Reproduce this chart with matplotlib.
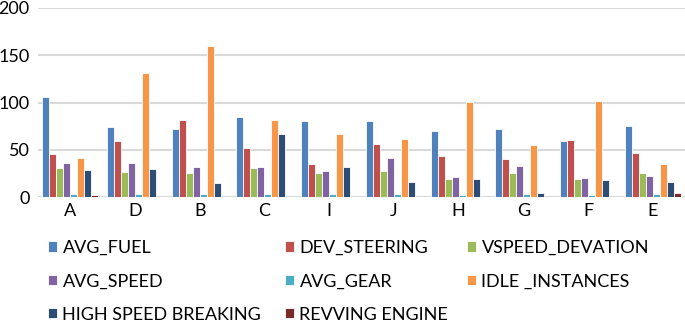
import numpy as np
import matplotlib
matplotlib.use("Agg")
import matplotlib.pyplot as plt

plt.rcParams["font.family"] = ["Lato", "DejaVu Sans"]

categories = ["A", "D", "B", "C", "I", "J", "H", "G", "F", "E"]
series = ["AVG_FUEL", "DEV_STEERING", "VSPEED_DEVATION", "AVG_SPEED",
          "AVG_GEAR", "IDLE _INSTANCES", "HIGH SPEED BREAKING", "REVVING ENGINE"]
colors = ["#4F81BD", "#C0504D", "#9BBB59", "#8064A2",
          "#4BACC6", "#F79646", "#2C4D75", "#772C2A"]

avg_fuel = [106, 74, 72, 85, 80, 80, 70, 72, 59, 75.5]
dev_steering = [46, 59, 81, 52, 35, 56.5, 43, 40.5, 60, 47]
vspeed_devation = [31, 26, 25, 30.5, 25, 27.5, 19.5, 25.5, 19.5, 25.5]
avg_speed = [36, 36, 32, 31.5, 28, 41.5, 21, 33, 20.5, 22]
avg_gear = [3, 3, 3, 3, 3, 3, 2.5, 3, 2.5, 3]
idle_instances = [41.5, 131, 160, 81.5, 66.5, 61, 100.5, 54.5, 102, 34.5]
high_speed_breaking = [28.5, 30, 15, 66.5, 32, 16, 19.5, 4.5, 18, 15.5]
revving_engine = [2, 0, 0, 0, 0, 0.5, 0.5, 0, 0, 4]

values = [avg_fuel, dev_steering, vspeed_devation, avg_speed,
          avg_gear, idle_instances, high_speed_breaking, revving_engine]

fig = plt.figure(figsize=(6.85, 3.22), dpi=100)
ax = fig.add_axes([38 / 685, 1 - 197 / 322, 1 - 38 / 685, 189 / 322])

x = np.arange(len(categories))
w = 0.865 / len(series)
handles = []
for i, (name, vals, c) in enumerate(zip(series, values, colors)):
    xs = x + (i - (len(series) - 1) / 2) * w
    b = ax.bar(xs, vals, w, color=c, edgecolor="white", linewidth=0.6,
               label=name, zorder=3)
    handles.append(b)

ax.set_xlim(-0.5, len(categories) - 0.5)
ax.set_ylim(0, 200)
ax.set_yticks([0, 50, 100, 150, 200])
ax.set_xticks(x)
ax.set_xticklabels(categories)
ax.grid(axis="y", color="#D9D9D9", linewidth=1.5, zorder=0)
ax.axhline(0, color="#D9D9D9", linewidth=1.5, zorder=2)
for s in ax.spines.values():
    s.set_visible(False)
ax.tick_params(axis="both", length=0, labelsize=13, colors="black")
ax.tick_params(axis="y", pad=6)
ax.tick_params(axis="x", pad=4)

# legend laid out as three separate columns (row-major reading like Excel)
columns = [[0, 3, 6], [1, 4, 7], [2, 5]]
col_x = [48, 285, 467]
for idx, cx in zip(columns, col_x):
    lg = fig.legend([handles[k] for k in idx], [series[k] for k in idx],
                    loc="upper left", bbox_to_anchor=(cx / 685, 1 - 240 / 322),
                    frameon=False, fontsize=13, handlelength=0.5, handleheight=0.5,
                    handletextpad=0.3, labelspacing=0.96,
                    borderaxespad=0, borderpad=0)

fig.savefig("out.png", dpi=100)
